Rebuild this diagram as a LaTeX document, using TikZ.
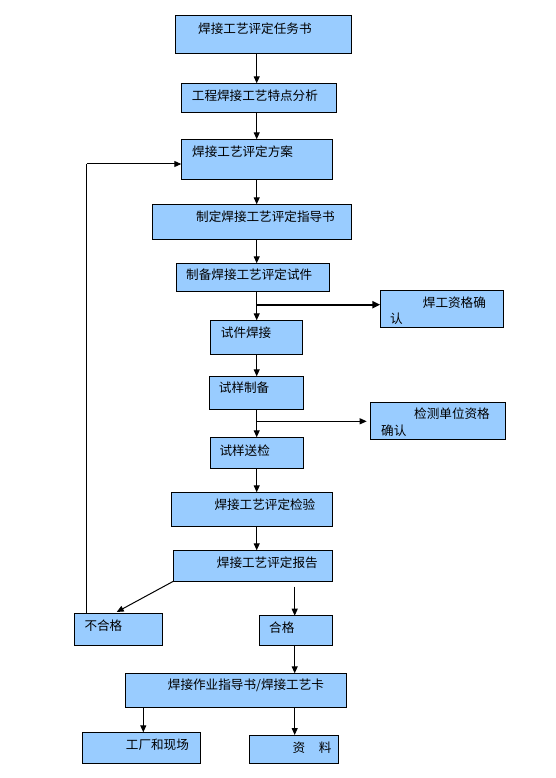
\documentclass[tikz,border=0pt]{standalone}
\usepackage{fontspec}
\setmainfont{Noto Sans CJK SC}
\usetikzlibrary{arrows.meta}
\definecolor{boxblue}{HTML}{99CCFF}
\tikzset{
  boxst/.style={draw=black, line width=1pt, fill=boxblue, inner sep=0pt, outer sep=0pt},
  txt/.style={anchor=west, inner sep=0pt, font=\fontsize{12.6}{14}\selectfont},
  arr/.style={line width=1pt, -{Triangle[length=7pt,width=6pt]}},
  thickarr/.style={line width=2pt, -{Triangle[length=8pt,width=7pt]}},
  ln/.style={line width=1pt}
}
\newcommand{\mybox}[5]{% name, x1, y1, x2, y2
  \node[boxst, minimum width={(#4-#2)*1pt}, minimum height={(#5-#3)*1pt}] (#1) at ({(#2+#4)/2},{(#3+#5)/2}) {};}
\begin{document}
\begin{tikzpicture}[x=1pt,y=-1pt]
\useasboundingbox[fill=white] (0,0) rectangle (556,778);
\mybox{b1}{175.3}{15.3}{351.3}{54}
\node[txt] (t1) at (198,29) {焊接工艺评定任务书};
\mybox{b2}{181.3}{83.3}{336.3}{112.3}
\node[txt] (t2) at (191.7,96) {工程焊接工艺特点分析};
\mybox{b3}{181.3}{139.3}{332.3}{179.3}
\node[txt] (t3) at (192,152) {焊接工艺评定方案};
\mybox{b4}{152.3}{204.3}{351.3}{239.3}
\node[txt] (t4) at (196,217) {制定焊接工艺评定指导书};
\mybox{b5}{176.3}{263.3}{329.3}{291.3}
\node[txt] (t5) at (186,275) {制备焊接工艺评定试件};
\mybox{w}{380.3}{290.3}{503.3}{327.3}
\node[txt] (tw1) at (422.7,302.5) {焊工资格确};
\node[txt] (tw2) at (390,319) {认};
\mybox{b6}{210.3}{320.3}{302.3}{354.3}
\node[txt] (t6) at (220.7,332.5) {试件焊接};
\mybox{b7}{209.3}{376.3}{303.3}{409.3}
\node[txt] (t7) at (218.7,387.5) {试样制备};
\mybox{q}{370.3}{402.3}{505.7}{439.3}
\node[txt] (tq1) at (414,414) {检测单位资格};
\node[txt] (tq2) at (381,431) {确认};
\mybox{b8}{210.3}{437.3}{303.3}{468.3}
\node[txt] (t8) at (219.3,451) {试样送检};
\mybox{b9}{171.3}{492.3}{332.3}{526}
\node[txt] (t9) at (214.3,504.5) {焊接工艺评定检验};
\mybox{b10}{173.3}{550.3}{332.3}{581.3}
\node[txt] (t10) at (216.7,562.5) {焊接工艺评定报告};
\mybox{ng}{74.3}{613.3}{162.3}{645.3}
\node[txt] (tng) at (84.3,626) {不合格};
\mybox{ok}{259.3}{615.7}{332.3}{645.3}
\node[txt] (tok) at (269,627.5) {合格};
\mybox{card}{125.3}{673.3}{346.3}{707}
\node[txt] (tcard) at (167.7,685) {焊接作业指导书/焊接工艺卡};
\mybox{fac}{82.3}{732.3}{200}{763}
\node[txt] (tfac) at (125.7,744.5) {工厂和现场};
\mybox{dat}{249.3}{735}{338.3}{763}
\node[txt] (tdat) at (292.3,748) {资\hspace{1.1em}料};
% axis coordinates
\coordinate (ax) at (256.7,0);
\coordinate (rx) at (294.7,0);
\coordinate (lx) at (143.3,0);
\coordinate (loopx) at (86.7,0);
\coordinate (br1) at (256.7,304.7);
\coordinate (br2) at (256.7,421.3);
\coordinate (okstart) at (294.7,586.7);
% main flow
\draw[arr] (b1.south -| ax) -- (b2.north -| ax);
\draw[arr] (b2.south -| ax) -- (b3.north -| ax);
\draw[arr] (b3.south -| ax) -- (b4.north -| ax);
\draw[arr] (b4.south -| ax) -- (b5.north -| ax);
\draw[arr] (b5.south -| ax) -- (b6.north -| ax);
\draw[thickarr] (br1) -- (br1 -| w.west);
\draw[arr] (b6.south -| ax) -- (b7.north -| ax);
\draw[arr] (b7.south -| ax) -- (b8.north -| ax);
\draw[arr] (br2) -- ([xshift=-3.6pt]br2 -| q.west);
\draw[arr] (b8.south -| ax) -- (b9.north -| ax);
\draw[arr] (b9.south -| ax) -- (b10.north -| ax);
% result branches
\draw[arr] (b10.south west) -- (116.7,612);
\draw[arr] (okstart) -- (ok.north -| rx);
\draw[ln] (ng.north -| loopx) -- (loopx |- 0,164);
\draw[arr] (loopx |- 0,164) -- (b3.west |- 0,164);
\draw[arr] (ok.south -| rx) -- (card.north -| rx);
\draw[arr] (card.south -| lx) -- (fac.north -| lx);
\draw[arr] (card.south -| rx) -- (dat.north -| rx);
\end{tikzpicture}
\end{document}
